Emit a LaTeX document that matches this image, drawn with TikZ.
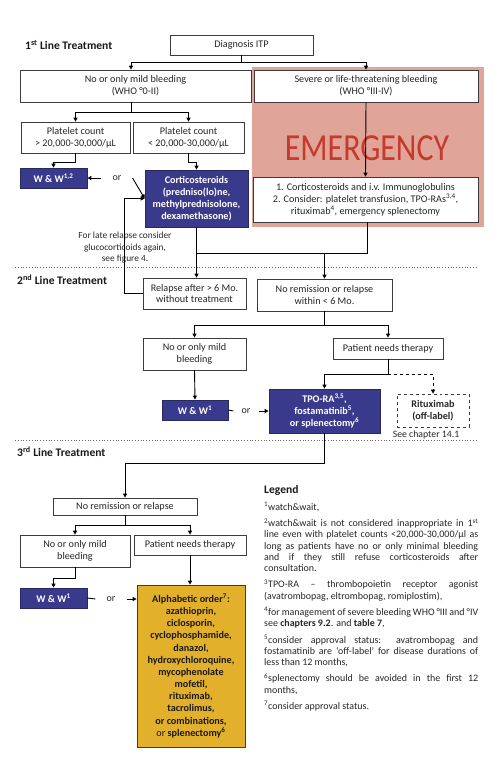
\documentclass[tikz,border=0pt]{standalone}
\usepackage{fontspec}
\setmainfont{Carlito}
\usetikzlibrary{arrows.meta,calc}
\definecolor{navy}{RGB}{58,58,140}
\definecolor{pinkc}{RGB}{225,164,153}
\definecolor{emred}{RGB}{196,58,44}
\definecolor{yell}{RGB}{226,176,42}
\definecolor{linec}{RGB}{60,60,60}
\begin{document}
\begin{tikzpicture}[x=1bp,y=-1bp,
  box/.style={draw=linec, line width=0.7bp, fill=white, inner sep=1bp, align=center, font=\fontsize{10.2}{12}\selectfont, text=black!85},
  navybox/.style={box, fill=navy, draw=navy!70!black, text=white, font=\fontsize{10.2}{12}\selectfont\bfseries},
  conn/.style={line width=0.9bp, draw=black},
  arr/.style={conn, -{Triangle[length=4bp,width=4bp]}},
  ortext/.style={font=\fontsize{10}{11}\selectfont, inner ysep=0bp, text=black!85},
  ttl/.style={anchor=west, inner sep=0bp, font=\fontsize{11.6}{13}\selectfont\bfseries, text=black!90},
  sep/.style={line width=0.8bp, dotted, draw=black!60}
]
\useasboundingbox (0,0) rectangle (499,783);

% titles
\node[ttl] (t1) at (25,45) {1\textsuperscript{st} Line Treatment};
\node[ttl] (t2) at (17,280) {2\textsuperscript{nd} Line Treatment};
\node[ttl] (t3) at (17,452) {3\textsuperscript{rd} Line Treatment};

% emergency background
\node[fill=pinkc, minimum width=232bp, minimum height=160bp, inner sep=0bp] (emgbg) at (368,147) {};
\node[text=emred, font=\fontsize{32}{32}\selectfont, inner sep=0bp] (emword) at (367,148) {\scalebox{1}[1.2]{EMERGENCY}};

% 1st line
\node[box, minimum width=143bp, minimum height=20bp] (diag) at (241.5,45) {Diagnosis ITP};
\node[box, minimum width=231bp, minimum height=32bp] (mild1) at (135.5,86) {No or only mild bleeding\\(WHO °0-II)};
\node[box, minimum width=224bp, minimum height=32bp] (severe) at (366,86) {Severe or life-threatening bleeding\\(WHO °III-IV)};
\node[box, minimum width=225bp, minimum height=45bp] (emtx) at (365.5,199.5) {1. Corticosteroids and i.v. Immunoglobulins\\2. Consider: platelet transfusion, TPO-RAs\textsuperscript{3,4},\\rituximab\textsuperscript{4}, emergency splenectomy};
\node[box, minimum width=109bp, minimum height=31bp] (pc1) at (75.5,137.5) {Platelet count\\> 20,000-30,000/µL};
\node[box, minimum width=111bp, minimum height=31bp] (pc2) at (188.5,137.5) {Platelet count\\< 20,000-30,000/µL};
\node[navybox, minimum width=67bp, minimum height=20bp] (ww1) at (53.5,178) {W \& W\textsuperscript{1,2}};
\node[navybox, minimum width=103bp, minimum height=57bp] (cort) at (196.5,198.5) {Corticosteroids\\(predniso(lo)ne,\\methylprednisolone,\\dexamethasone)};
\node[ortext, inner xsep=11bp] (or1) at (117,178) {or};
\node[align=center, inner sep=0bp, font=\fontsize{9.4}{11.5}\selectfont, text=black!85] (note) at (125,248) {For late relapse consider\\glucocorticoids again,\\see figure 4.};

% 2nd line
\node[box, minimum width=103bp, minimum height=31bp] (relapse) at (194.5,293.5) {Relapse after > 6 Mo.\\without treatment};
\node[box, minimum width=135bp, minimum height=32bp] (norem) at (324.5,295) {No remission or relapse\\within < 6 Mo.};
\node[box, minimum width=103bp, minimum height=32bp] (mild2) at (194.5,354) {No or only mild\\bleeding};
\node[box, minimum width=110bp, minimum height=21bp] (pnt2) at (388,348.5) {Patient needs therapy};
\node[navybox, minimum width=66bp, minimum height=20bp] (ww2) at (195,410) {W \& W\textsuperscript{1}};
\node[ortext, inner xsep=8bp] (or2) at (246,411) {or};
\node[navybox, minimum width=111bp, minimum height=44bp] (tpo) at (324.5,411) {TPO-RA\textsuperscript{3,5},\\fostamatinib\textsuperscript{5},\\or splenectomy\textsuperscript{6}};
\node[box, dashed, minimum width=72bp, minimum height=33bp, font=\fontsize{10.2}{12}\selectfont\bfseries] (ritux) at (433,410.5) {Rituximab\\(off-label)};
\node[font=\fontsize{9.8}{10}\selectfont, inner sep=0bp, text=black!85] (seech) at (426,435) {See chapter 14.1};

% separators
\draw[sep] (15,267) -- (478,267);
\draw[sep] (15,440) -- (478,440);

% 3rd line
\node[box, minimum width=144bp, minimum height=17bp] (norel3) at (125,506.5) {No remission or relapse};
\node[box, minimum width=110bp, minimum height=32bp] (mild3) at (75,551) {No or only mild\\bleeding};
\node[box, minimum width=112bp, minimum height=20bp] (pnt3) at (190,545) {Patient needs therapy};
\node[navybox, minimum width=67bp, minimum height=20bp] (ww3) at (53.5,598) {W \& W\textsuperscript{1}};
\node[ortext, inner xsep=11bp] (or3) at (111,599) {or};
\node[box, fill=yell, draw=linec, minimum width=108bp, minimum height=162bp, font=\fontsize{10.2}{12.2}\selectfont\bfseries, text=black!90] (yel) at (191,666) {Alphabetic order\textsuperscript{7}:\\azathioprin,\\ciclosporin,\\cyclophosphamide,\\danazol,\\hydroxychloroquine,\\mycophenolate\\mofetil,\\rituximab,\\tacrolimus,\\or combinations,\\{\mdseries or} splenectomy\textsuperscript{6}};

% legend
\node[anchor=west, inner sep=0bp, font=\fontsize{11.6}{13}\selectfont\bfseries, text=black!90] (legt) at (264,490) {Legend};
\node[anchor=north west, inner sep=0bp, text width=214bp, align=justify, font=\fontsize{10}{11.2}\selectfont, text=black!85] (legend) at (264,502) {\setlength{\parskip}{5.3bp}\setlength{\parindent}{0pt}\hyphenpenalty=10000
\textsuperscript{1}watch\&wait,\par
\textsuperscript{2}watch\&wait is not considered inappropriate in 1\textsuperscript{st} line even with platelet counts <20,000-30,000/µl as long as patients have no or only minimal bleeding\linebreak and if they still refuse corticosteroids after\linebreak consultation.\par
\textsuperscript{3}TPO-RA – thrombopoietin receptor agonist (avatrombopag, eltrombopag, romiplostim),\par
\textsuperscript{4}for management of severe bleeding WHO °III and °IV see \textbf{chapters 9.2}. and \textbf{table 7},\par
\textsuperscript{5}consider approval status: avatrombopag and fostamatinib are ‘off-label’ for disease durations of less than 12 months,\par
\textsuperscript{6}splenectomy should be avoided in the first 12 months,\par
\textsuperscript{7}consider approval status.};

% connectors 1st line
\draw[conn] (diag.south) -- ++(0,7) coordinate (j0);
\draw[arr] (j0) -| ($(mild1.north)+(-4.5,0)$);
\draw[arr] (j0) -| (severe.north);
\draw[conn] ($(mild1.south)+(-4.5,0)$) -- ++(0,10) coordinate (j1);
\draw[arr] (j1) -| (pc1.north);
\draw[arr] (j1) -| (pc2.north);
\draw[arr] (severe.south) -- (emtx.north);
\draw[arr] (pc1.south) -- ++(0,9) -| (ww1.north);
\draw[arr] (pc2.south) -- ++(0,9) -| (cort.north);
\draw[arr] (or1.west) -- (ww1.east);
\draw[arr] (or1.east) -- (cort.west);

% to 2nd line
\coordinate (j2) at (196.5,253);
\draw[arr] (cort.south) -- (cort.south |- relapse.north);
\draw[conn] ($(emtx.south)+(1.5,0)$) |- (j2);
\draw[arr] (norem.north |- j2) -- (norem.north);
\draw[arr] (relapse.west) -- ++(-18,0) |- (cort.west);

% 2nd line
\draw[conn] (norem.south) -- ++(0,14) coordinate (j3);
\draw[arr] (j3) -| (mild2.north);
\draw[arr] (j3) -| (pnt2.north);
\draw[arr] (mild2.south) -- (ww2.north);
\draw[conn] (ww2.east) -- (or2.west);
\draw[arr] (or2.east) -- (or2.east -| tpo.west);
\draw[conn] (pnt2.south) -- ++(0,15) coordinate (j4);
\draw[arr] (j4) -| (tpo.north);
\draw[arr, dashed] (j4) -| (ritux.north);

% to 3rd line
\draw[arr] (tpo.south) -- ++(0,30) -| (norel3.north);
\draw[conn] (norel3.south) -- ++(0,10) coordinate (j5);
\draw[arr] (j5) -| (mild3.north);
\draw[arr] (j5) -| (pnt3.north);
\draw[arr] (mild3.south) -- ++(0,11) -| (ww3.north);
\draw[arr] (pnt3.south) -- (pnt3.south |- yel.north);
\draw[conn] (ww3.east) -- (or3.west);
\draw[arr] (or3.east) -- (or3.east -| yel.west);
\end{tikzpicture}
\end{document}
